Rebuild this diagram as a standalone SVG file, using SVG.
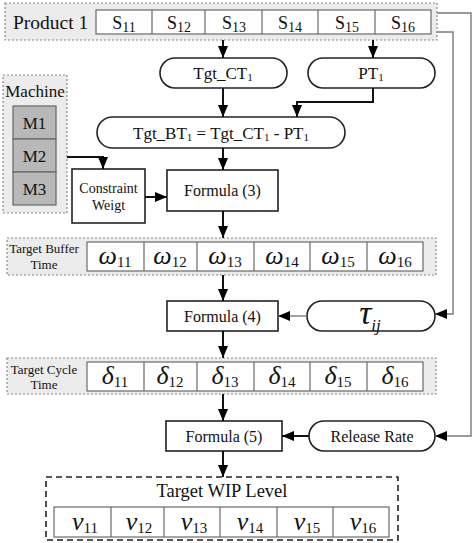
<svg xmlns="http://www.w3.org/2000/svg" width="474" height="543" viewBox="0 0 474 543">
<defs>
<marker id="ah" viewBox="0 0 12 10" refX="12" refY="5" markerWidth="12" markerHeight="10" markerUnits="userSpaceOnUse" orient="auto">
<path d="M0,0 L12,5 L0,10 z" fill="#000"/>
</marker>
<style>
text{font-family:"Liberation Serif","Times New Roman",serif;fill:#111;}
.panel{fill:#ececec;stroke:#8a8a8a;stroke-width:1.2;stroke-dasharray:2,2;}
.cell{fill:#fff;stroke:#6a6a6a;stroke-width:1.2;}
.box{fill:#fff;stroke:#222;stroke-width:1.6;}
.mach{fill:#b8b8b8;stroke:#666;stroke-width:1.2;}
.c{text-anchor:middle;}
.flow{fill:none;stroke:#111;stroke-width:2;}
.gray{fill:none;stroke:#7a7a7a;stroke-width:1.4;}
.gk{font-style:italic;font-size:26px;}
.sb{font-size:15px;font-style:normal;}
.f{font-size:16px;}
</style>
</defs>

<g id="product1">
<rect class="panel" x="5" y="3" width="432" height="37"/>
<text x="13" y="29" font-size="19.5">Product 1</text>
<rect class="cell" x="96" y="10" width="335" height="24"/>
<path d="M152,10V34M205,10V34M262,10V34M318,10V34M375,10V34" stroke="#6a6a6a" stroke-width="1.2"/>
<text class="c" x="124" y="29" font-size="18">S<tspan font-size="14" dy="3">11</tspan></text>
<text class="c" x="179" y="29" font-size="18">S<tspan font-size="14" dy="3">12</tspan></text>
<text class="c" x="234" y="29" font-size="18">S<tspan font-size="14" dy="3">13</tspan></text>
<text class="c" x="290" y="29" font-size="18">S<tspan font-size="14" dy="3">14</tspan></text>
<text class="c" x="347" y="29" font-size="18">S<tspan font-size="14" dy="3">15</tspan></text>
<text class="c" x="403" y="29" font-size="18">S<tspan font-size="14" dy="3">16</tspan></text>
</g>

<g id="tgt_ct">
<rect class="box" x="160" y="58" width="127" height="30" rx="15"/>
<text class="c" x="223" y="79" font-size="17">Tgt_CT<tspan font-size="11" dy="2">1</tspan></text>
</g>
<g id="pt">
<rect class="box" x="308" y="58" width="127" height="30" rx="15"/>
<text class="c" x="371" y="79" font-size="17">PT<tspan font-size="11" dy="2">1</tspan></text>
</g>

<g id="tgt_bt">
<rect class="box" x="97" y="117" width="248" height="31" rx="15.5"/>
<text class="c" x="221" y="139" font-size="17">Tgt_BT<tspan font-size="11" dy="2">1</tspan><tspan dy="-2"> =  Tgt_CT</tspan><tspan font-size="11" dy="2">1</tspan><tspan dy="-2">  -  PT</tspan><tspan font-size="11" dy="2">1</tspan></text>
</g>

<g id="machine">
<rect class="panel" x="3" y="75" width="64" height="138"/>
<text class="c" x="35" y="97" font-size="17">Machine</text>
<rect class="mach" x="13" y="106" width="43" height="33"/>
<rect class="mach" x="13" y="139" width="43" height="33"/>
<rect class="mach" x="13" y="172" width="43" height="33"/>
<text class="c" x="34.5" y="129" font-size="17">M1</text>
<text class="c" x="34.5" y="162" font-size="17">M2</text>
<text class="c" x="34.5" y="195" font-size="17">M3</text>
</g>

<g id="constraint">
<rect class="box" x="72" y="169" width="73" height="54"/>
<text class="c" x="108.5" y="193" font-size="14">Constraint</text>
<text class="c" x="108.5" y="210" font-size="14">Weigt</text>
</g>

<g id="formula3">
<rect class="box" x="167" y="170" width="111" height="41"/>
<text class="c f" x="222.5" y="196">Formula (3)</text>
</g>

<g id="buffer">
<rect class="panel" x="7" y="238" width="429" height="37"/>
<text class="c" x="44" y="253" font-size="13">Target Buffer</text>
<text class="c" x="44" y="269" font-size="13">Time</text>
<rect class="cell" x="87" y="242" width="336" height="29"/>
<path d="M144,242V271M197,242V271M254,242V271M310,242V271M367,242V271" stroke="#6a6a6a" stroke-width="1.2"/>
<text class="c gk" x="115" y="264">ω<tspan class="sb" dy="3">11</tspan></text>
<text class="c gk" x="170" y="264">ω<tspan class="sb" dy="3">12</tspan></text>
<text class="c gk" x="225" y="264">ω<tspan class="sb" dy="3">13</tspan></text>
<text class="c gk" x="282" y="264">ω<tspan class="sb" dy="3">14</tspan></text>
<text class="c gk" x="338" y="264">ω<tspan class="sb" dy="3">15</tspan></text>
<text class="c gk" x="395" y="264">ω<tspan class="sb" dy="3">16</tspan></text>
</g>

<g id="formula4">
<rect class="box" x="167" y="301" width="111" height="30"/>
<text class="c f" x="222.5" y="322">Formula (4)</text>
</g>
<g id="tau">
<rect class="box" x="307" y="301" width="128" height="30" rx="15"/>
<text class="c" x="370" y="324" font-size="34" font-style="italic">τ<tspan font-size="17" dy="7">ij</tspan></text>
</g>

<g id="cycle">
<rect class="panel" x="7" y="358" width="429" height="36"/>
<text class="c" x="44" y="374" font-size="13">Target Cycle</text>
<text class="c" x="44" y="389" font-size="13">Time</text>
<rect class="cell" x="87" y="362" width="336" height="29"/>
<path d="M144,362V391M197,362V391M254,362V391M310,362V391M367,362V391" stroke="#6a6a6a" stroke-width="1.2"/>
<text class="c gk" x="115" y="384">δ<tspan class="sb" dy="3">11</tspan></text>
<text class="c gk" x="170" y="384">δ<tspan class="sb" dy="3">12</tspan></text>
<text class="c gk" x="225" y="384">δ<tspan class="sb" dy="3">13</tspan></text>
<text class="c gk" x="282" y="384">δ<tspan class="sb" dy="3">14</tspan></text>
<text class="c gk" x="338" y="384">δ<tspan class="sb" dy="3">15</tspan></text>
<text class="c gk" x="395" y="384">δ<tspan class="sb" dy="3">16</tspan></text>
</g>

<g id="formula5">
<rect class="box" x="166" y="421" width="116" height="30"/>
<text class="c f" x="224" y="442">Formula (5)</text>
</g>
<g id="release">
<rect class="box" x="309" y="421" width="126" height="30" rx="15"/>
<text class="c f" x="372" y="442">Release Rate</text>
</g>

<g id="wip">
<rect x="46" y="477" width="352" height="63" fill="#fff" stroke="#222" stroke-width="1.6" stroke-dasharray="6,4"/>
<text class="c" x="222" y="497" font-size="18.5">Target WIP Level</text>
<rect class="cell" x="54" y="507" width="335" height="30"/>
<path d="M111,507V537M164,507V537M220,507V537M277,507V537M333,507V537" stroke="#6a6a6a" stroke-width="1.2"/>
<text class="c gk" x="85" y="530">ν<tspan class="sb" dy="3">11</tspan></text>
<text class="c gk" x="139" y="530">ν<tspan class="sb" dy="3">12</tspan></text>
<text class="c gk" x="194" y="530">ν<tspan class="sb" dy="3">13</tspan></text>
<text class="c gk" x="250" y="530">ν<tspan class="sb" dy="3">14</tspan></text>
<text class="c gk" x="307" y="530">ν<tspan class="sb" dy="3">15</tspan></text>
<text class="c gk" x="363" y="530">ν<tspan class="sb" dy="3">16</tspan></text>
</g>

<g id="connectors">
<path class="flow" d="M223,40V58" marker-end="url(#ah)"/>
<path class="flow" d="M373,40V58" marker-end="url(#ah)"/>
<path class="flow" d="M223,88V117" marker-end="url(#ah)"/>
<path class="flow" d="M373,88V102H297V117" marker-end="url(#ah)"/>
<path class="flow" d="M223,148V170" marker-end="url(#ah)"/>
<path class="flow" d="M67,157H103V169" marker-end="url(#ah)"/>
<path class="flow" d="M145,197H167" marker-end="url(#ah)"/>
<path class="flow" d="M223,211V238" marker-end="url(#ah)"/>
<path class="flow" d="M223,275V301" marker-end="url(#ah)"/>
<path class="gray" d="M307,316H278" marker-end="url(#ah)"/>
<path class="flow" d="M223,331V358" marker-end="url(#ah)"/>
<path class="flow" d="M223,394V421" marker-end="url(#ah)"/>
<path class="flow" d="M309,436H282" marker-end="url(#ah)"/>
<path class="flow" d="M223,451V477" marker-end="url(#ah)"/>
<path class="gray" d="M437,32H453V314H435" marker-end="url(#ah)"/>
<path class="gray" d="M437,13H471V436H435" marker-end="url(#ah)"/>
</g>
</svg>
